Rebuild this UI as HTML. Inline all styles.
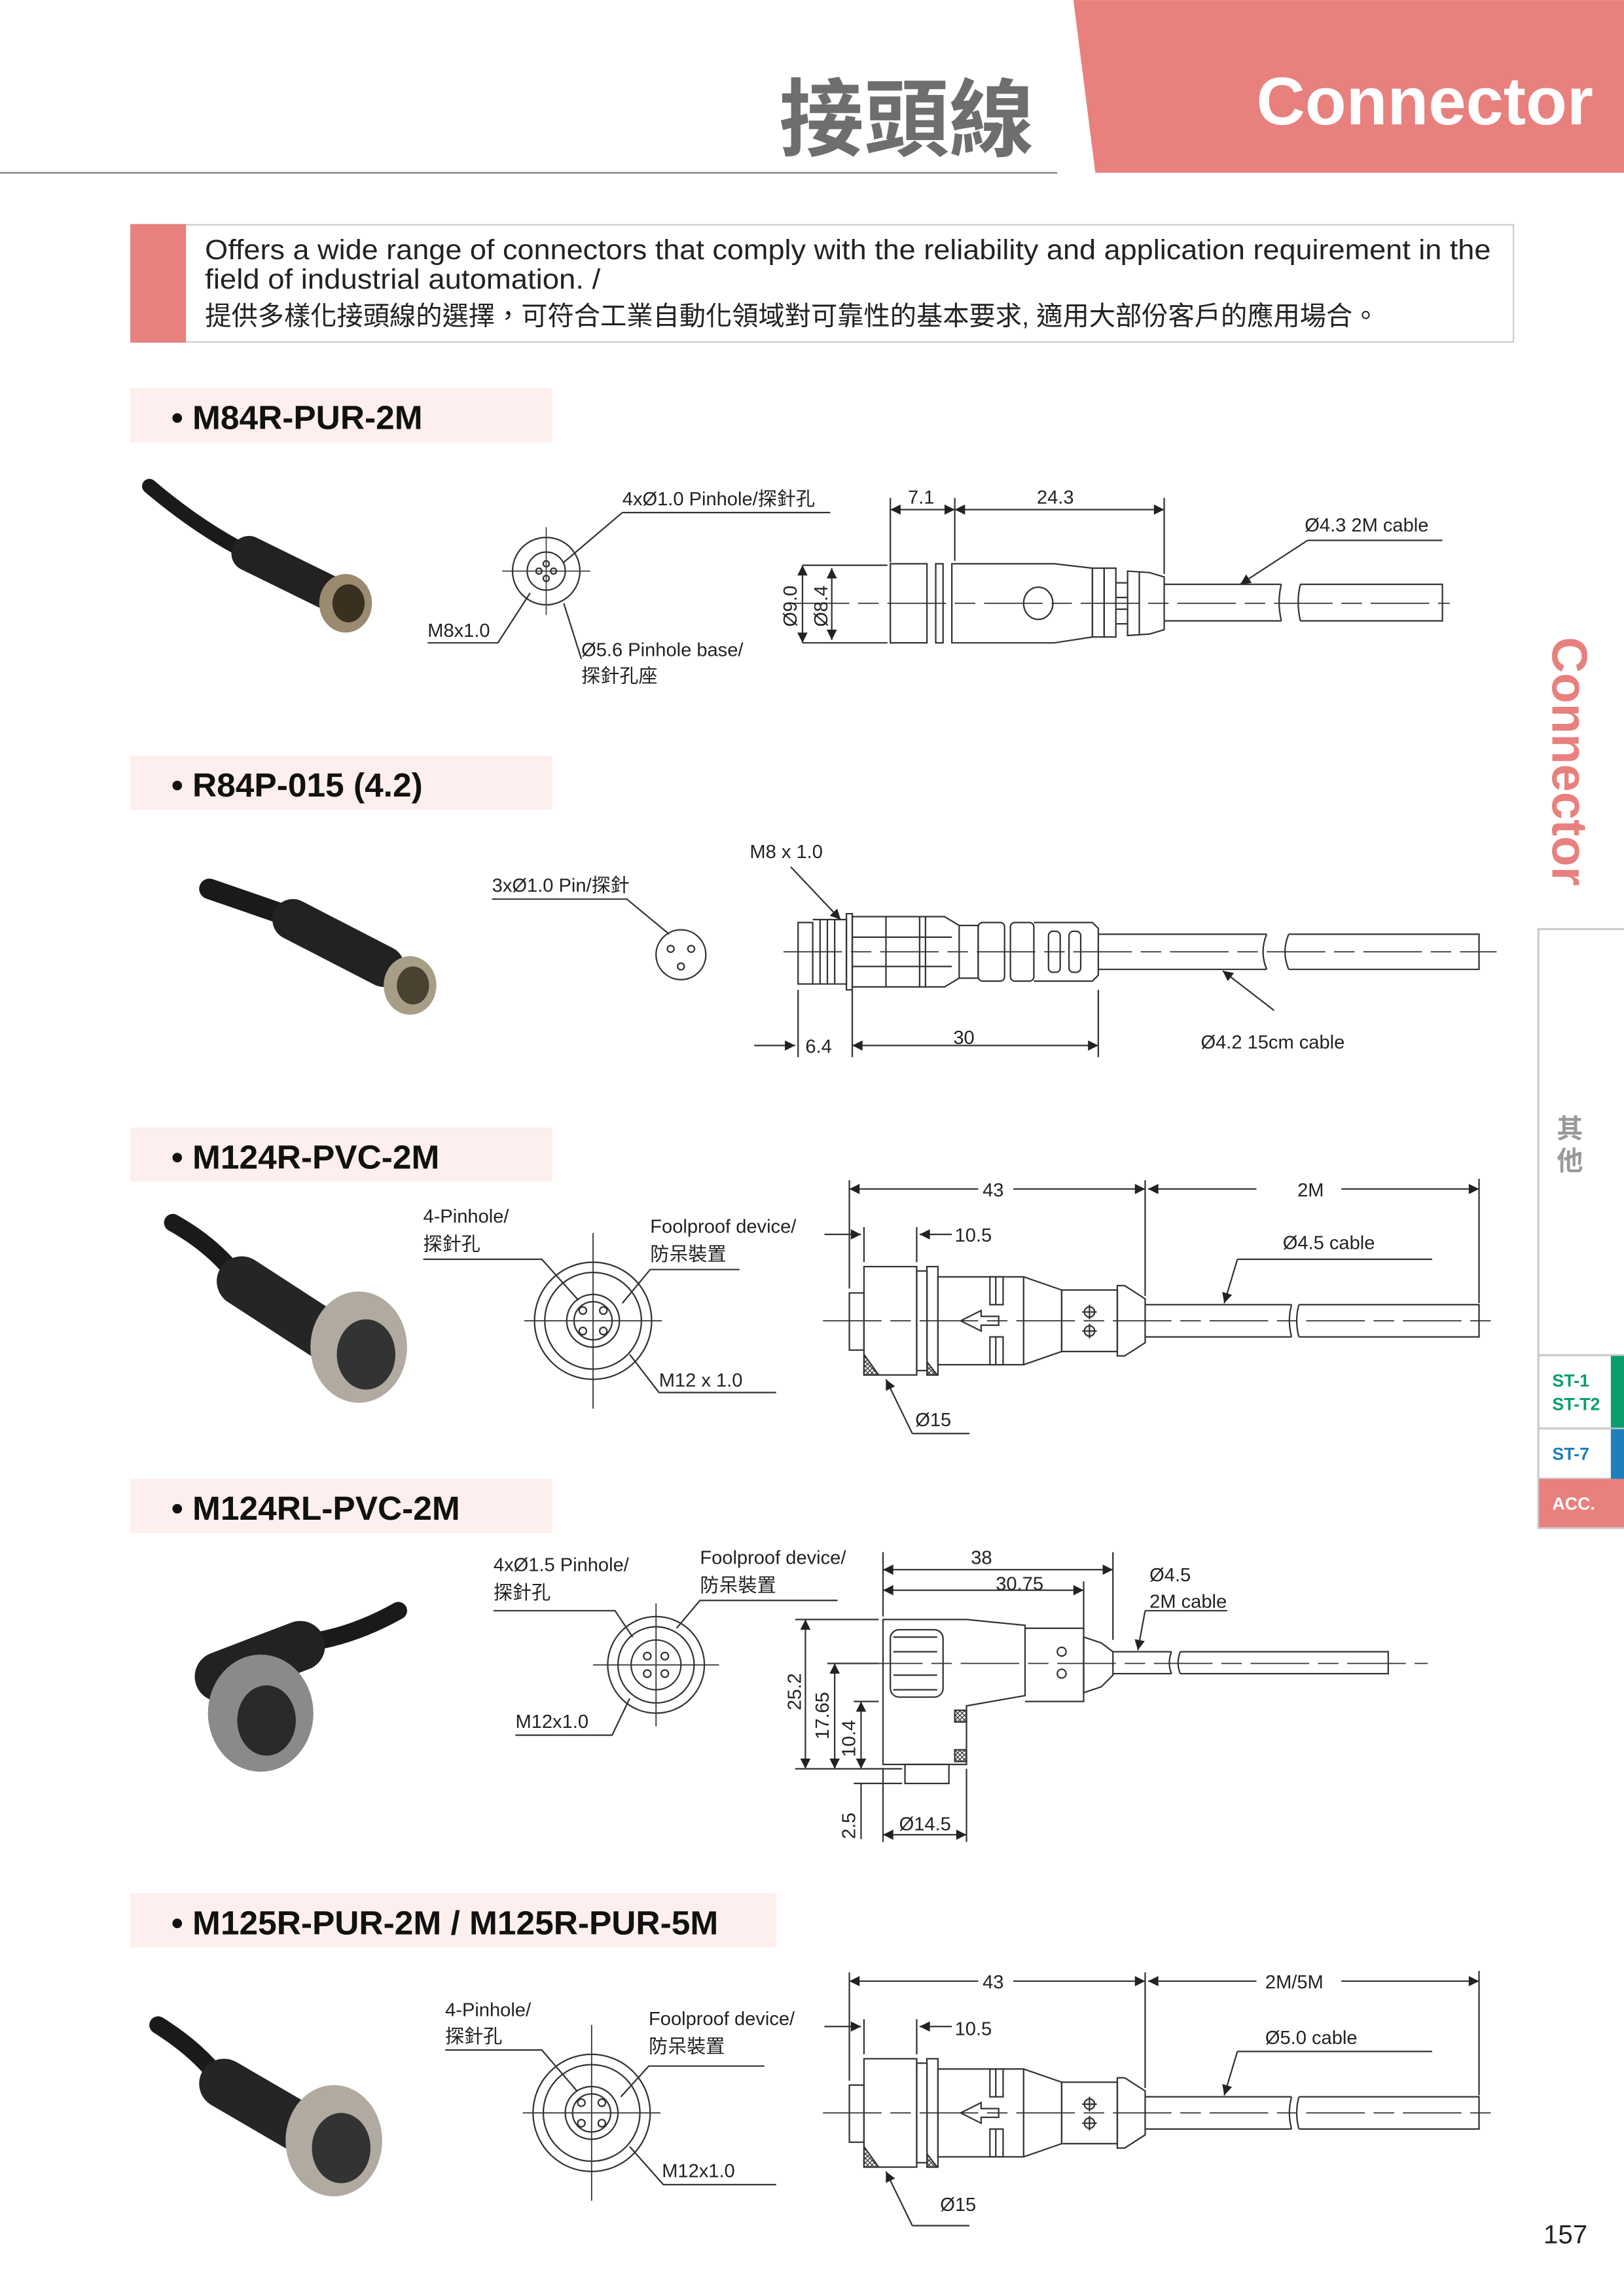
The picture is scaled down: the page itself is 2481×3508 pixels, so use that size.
<!DOCTYPE html>
<html><head><meta charset="utf-8"><style>
html,body{margin:0;padding:0;background:#fff}
svg{display:block}
text{font-family:"Liberation Sans","Noto Sans CJK TC",sans-serif}
</style></head><body>
<svg width="2481" height="3508" viewBox="0 0 1109 1568" xmlns="http://www.w3.org/2000/svg">
<defs>
<marker id="a" viewBox="0 0 10 10" refX="10" refY="5" markerWidth="9" markerHeight="7" orient="auto-start-reverse" markerUnits="userSpaceOnUse"><path d="M0,0L10,5L0,10z" fill="#222"/></marker>
<pattern id="h" width="3" height="3" patternUnits="userSpaceOnUse"><path d="M0,0L3,3M3,0L0,3" stroke="#333" stroke-width="0.6"/></pattern>
<g id="m12" fill="none" stroke="#333" stroke-width="1">
<line x1="562" y1="902" x2="1022" y2="902" stroke-dasharray="40,6,14,6" stroke-width="0.8"/>
<rect x="580" y="883" width="10" height="39"/>
<rect x="590" y="865" width="36" height="74"/>
<rect x="626" y="868" width="7" height="68"/>
<rect x="633" y="865" width="7.5" height="74"/>
<rect x="640.5" y="872" width="58.5" height="60"/>
<rect x="676" y="872" width="9" height="19"/><line x1="680" y1="872" x2="680" y2="891"/>
<rect x="676" y="913" width="9" height="19"/><line x1="680" y1="913" x2="680" y2="932"/>
<path d="M699,872L725,881L725,923L699,932"/>
<rect x="725" y="881" width="38" height="42"/>
<path d="M763,878L768,878L782,887L782,917L768,926L763,926z"/>
<path d="M782,891L882,891M887,891L1010,891L1010,913L887,913M882,913L782,913"/>
<path d="M882,891q-3,11 0,22M887,891q-3,11 0,22"/>
<path d="M682,899L670,899L670,895L656,902L670,909L670,905L682,905z"/>
<circle cx="744" cy="896" r="3.5"/><path d="M744,891v10M739,896h10"/>
<circle cx="744" cy="909" r="3.5"/><path d="M744,904v10M739,909h10"/>
<path d="M590,925L600,939L590,939z" fill="url(#h)"/>
<path d="M633,930L640,939L633,939z" fill="url(#h)"/>
<line x1="580" y1="806" x2="580" y2="880"/><line x1="782" y1="806" x2="782" y2="885"/><line x1="1010" y1="805" x2="1010" y2="890"/>
<line x1="580" y1="812" x2="668" y2="812" marker-start="url(#a)"/><line x1="692" y1="812" x2="782" y2="812" marker-end="url(#a)"/>
<line x1="784" y1="812" x2="858" y2="812" marker-start="url(#a)"/><line x1="916" y1="812" x2="1010" y2="812" marker-end="url(#a)"/>
<line x1="590" y1="838" x2="590" y2="862"/><line x1="626" y1="838" x2="626" y2="862"/>
<line x1="563" y1="843" x2="588" y2="843" marker-end="url(#a)"/><line x1="650" y1="843" x2="628" y2="843" marker-end="url(#a)"/>
<line x1="978" y1="860" x2="845" y2="860"/><line x1="845" y1="860" x2="836" y2="890" marker-end="url(#a)"/>
<line x1="623" y1="979" x2="605" y2="942" marker-end="url(#a)"/><line x1="623" y1="979" x2="662" y2="979"/>
</g>
</defs>

<!-- header -->
<path d="M733,0L1109,0L1109,118L748,118z" fill="#e8807e"/>
<text x="858" y="85" font-size="46" font-weight="bold" fill="#fff">Connector</text>
<text x="532" y="102" font-size="58" font-weight="bold" fill="#6e6e6e" font-family="'Noto Sans CJK TC',sans-serif">接頭線</text>
<line x1="0" y1="118" x2="722" y2="118" stroke="#888" stroke-width="1.2"/>

<!-- intro -->
<rect x="89.5" y="153.5" width="944" height="80" fill="#fff" stroke="#ccc"/>
<rect x="89" y="153" width="38" height="81" fill="#e8807e"/>
<text x="140" y="177" font-size="19" fill="#222" textLength="878" lengthAdjust="spacingAndGlyphs">Offers a wide range of connectors that comply with the reliability and application requirement in the</text>
<text x="140" y="197" font-size="19" fill="#222" textLength="270" lengthAdjust="spacingAndGlyphs">field of industrial automation. /</text>
<text x="140" y="222" font-size="18" fill="#222">提供多樣化接頭線的選擇，可符合工業自動化領域對可靠性的基本要求, 適用大部份客戶的應用場合。</text>

<!-- section headers -->
<g font-size="23" font-weight="bold" fill="#111">
<rect x="89" y="265" width="288" height="37" fill="#fcefed"/><text x="117" y="293">• M84R-PUR-2M</text>
<rect x="89" y="516" width="288" height="37" fill="#fcefed"/><text x="117" y="544">• R84P-015 (4.2)</text>
<rect x="89" y="770" width="288" height="37" fill="#fcefed"/><text x="117" y="798">• M124R-PVC-2M</text>
<rect x="89" y="1010" width="288" height="37" fill="#fcefed"/><text x="117" y="1038">• M124RL-PVC-2M</text>
<rect x="89" y="1293" width="441" height="37" fill="#fcefed"/><text x="117" y="1321">• M125R-PUR-2M / M125R-PUR-5M</text>
</g>

<!-- sidebar -->
<text transform="translate(1060,435) rotate(90)" font-size="34" font-weight="bold" fill="#e8807e">Connector</text>
<path d="M1109,634.5H1050.5V1043.5H1109" fill="none" stroke="#ccc" stroke-width="1.5"/>
<text x="1063" y="777" font-size="18" font-weight="bold" fill="#999">其</text>
<text x="1063" y="799" font-size="18" font-weight="bold" fill="#999">他</text>
<line x1="1051" y1="925.5" x2="1109" y2="925.5" stroke="#ccc" stroke-width="1.5"/>
<line x1="1051" y1="975.5" x2="1109" y2="975.5" stroke="#ccc" stroke-width="1.5"/>
<line x1="1051" y1="1010" x2="1109" y2="1010" stroke="#ccc" stroke-width="1.5"/>
<rect x="1100" y="926" width="9" height="49" fill="#0a9e6e"/>
<rect x="1100" y="976" width="9" height="34" fill="#1f7fba"/>
<rect x="1051" y="1010" width="58" height="33" fill="#e8807e"/>
<g font-size="12" font-weight="bold">
<text x="1060" y="947" fill="#0a9e6e">ST-1</text><text x="1060" y="963" fill="#0a9e6e">ST-T2</text>
<text x="1060" y="997" fill="#1f7fba">ST-7</text>
<text x="1060" y="1031" fill="#fff">ACC.</text></g>
<text x="1054" y="1532" font-size="18" fill="#222">157</text>

<!-- photos -->
<g fill="none" stroke-linecap="round">
<path d="M102,332Q135,360 168,377" stroke="#1a1a1a" stroke-width="10"/>
<path d="M170,378L225,405" stroke="#222" stroke-width="24"/>
<ellipse cx="236" cy="412" rx="18" ry="20" fill="#9a8a70"/><ellipse cx="238" cy="412" rx="11" ry="13" fill="#3a3020"/>
<path d="M143,607L198,626" stroke="#1a1a1a" stroke-width="14"/>
<path d="M200,628L262,660" stroke="#222" stroke-width="28"/>
<ellipse cx="280" cy="673" rx="18" ry="20" fill="#a89e88"/><ellipse cx="282" cy="673" rx="11" ry="13" fill="#4a4230"/>
<path d="M118,835Q145,850 162,872" stroke="#1a1a1a" stroke-width="12"/>
<path d="M165,875L222,912" stroke="#252525" stroke-width="34"/>
<ellipse cx="245" cy="920" rx="33" ry="38" fill="#b0aaa0"/><ellipse cx="250" cy="925" rx="20" ry="24" fill="#333"/>
<path d="M272,1100Q240,1118 208,1122" stroke="#1a1a1a" stroke-width="12"/>
<path d="M205,1124L150,1145" stroke="#222" stroke-width="34"/>
<ellipse cx="178" cy="1170" rx="36" ry="40" fill="#8a8a88"/><ellipse cx="182" cy="1175" rx="20" ry="24" fill="#2a2a2a"/>
<path d="M108,1383Q135,1400 150,1420" stroke="#1a1a1a" stroke-width="12"/>
<path d="M153,1423L208,1455" stroke="#252525" stroke-width="34"/>
<ellipse cx="228" cy="1462" rx="33" ry="38" fill="#b0aaa0"/><ellipse cx="233" cy="1467" rx="20" ry="24" fill="#333"/>
</g>

<g font-size="13" fill="#222">
<!-- Section 1 -->
<g fill="none" stroke="#333" stroke-width="1">
<circle cx="373" cy="390" r="23"/><circle cx="373" cy="390" r="13"/>
<circle cx="368" cy="390" r="2"/><circle cx="378" cy="390" r="2"/><circle cx="373" cy="385" r="2"/><circle cx="373" cy="395" r="2"/>
<path d="M343,390h60M373,360v60" stroke-width="0.7"/>
<path d="M425,350H567M425,350L385,384"/>
<path d="M292,439H340L362,405"/>
<path d="M397,450L385,412"/>
<line x1="540" y1="412" x2="990" y2="412" stroke-dasharray="40,6,14,6" stroke-width="0.8"/>
<path d="M548,386H606M548,439H606"/>
<rect x="608" y="385" width="25" height="54"/><rect x="639" y="385" width="5" height="54"/>
<path d="M650,385H720L746,388V435L720,439H650z"/>
<rect x="746" y="388" width="8" height="47"/><rect x="754" y="388" width="8" height="47"/>
<path d="M770,390L785,391L795,394V430L785,433L770,434z"/><line x1="778" y1="391" x2="778" y2="433"/>
<path d="M762,398h8M762,408h8M762,416h8M762,426h8"/>
<ellipse cx="709" cy="412" rx="10" ry="11"/>
<path d="M795,399H875M888,399H985V424H888M875,424H795"/>
<path d="M875,399q-3,12 0,25M888,399q-3,12 0,25"/>
<path d="M608,340V384M652,340V383M795,340V392"/>
<line x1="608" y1="348" x2="652" y2="348" marker-start="url(#a)" marker-end="url(#a)"/>
<line x1="652" y1="348" x2="795" y2="348" marker-start="url(#a)" marker-end="url(#a)"/>
<line x1="548" y1="386" x2="548" y2="439" marker-start="url(#a)" marker-end="url(#a)"/>
<line x1="568" y1="388" x2="568" y2="437" marker-start="url(#a)" marker-end="url(#a)"/>
<path d="M985,369H893"/><line x1="893" y1="369" x2="847" y2="399" marker-end="url(#a)"/>
</g>
<text x="425" y="345">4xØ1.0 Pinhole/探針孔</text>
<text x="292" y="435">M8x1.0</text>
<text x="397" y="448">Ø5.6 Pinhole base/</text><text x="397" y="466">探針孔座</text>
<text x="620" y="344">7.1</text><text x="708" y="344">24.3</text>
<text transform="translate(544,428) rotate(-90)">Ø9.0</text>
<text transform="translate(565,428) rotate(-90)">Ø8.4</text>
<text x="891" y="363">Ø4.3 2M cable</text>

<!-- Section 2 -->
<g fill="none" stroke="#333" stroke-width="1">
<circle cx="465" cy="652" r="17"/><circle cx="458" cy="648" r="2.3"/><circle cx="472" cy="648" r="2.3"/><circle cx="465" cy="660" r="2.3"/>
<path d="M336,614H428L457,638"/>
<line x1="535" y1="650" x2="1022" y2="650" stroke-dasharray="40,6,14,6" stroke-width="0.8"/>
<rect x="545" y="630" width="10" height="42"/>
<path d="M555,628H578V672H555M560,628V672M565,628V672M570,628V672"/>
<rect x="578" y="624" width="4" height="52"/>
<path d="M582,626H645L655,632V668L645,674H582z"/>
<path d="M605,626V674M628,626V674M632,626V674M582,640H650M582,660H650"/>
<path d="M655,632H668V668H655"/>
<rect x="668" y="630" width="18" height="40" rx="3"/><rect x="690" y="630" width="16" height="40" rx="3"/>
<path d="M706,630H746L750,634V666L746,670H706"/>
<rect x="716" y="636" width="8" height="28" rx="3"/><rect x="730" y="636" width="8" height="28" rx="3"/>
<path d="M750,638H865M880,638H1010V662H880M865,662H750"/>
<path d="M865,638q-5,12 0,24M880,638q-5,12 0,24"/>
<line x1="540" y1="592" x2="574" y2="628" marker-end="url(#a)"/>
<line x1="870" y1="690" x2="835" y2="663" marker-end="url(#a)"/>
<path d="M545,676V722M582,676V722M750,676V722"/>
<line x1="515" y1="714" x2="543" y2="714" marker-end="url(#a)"/>
<line x1="582" y1="714" x2="750" y2="714" marker-start="url(#a)" marker-end="url(#a)"/>
</g>
<text x="336" y="609">3xØ1.0 Pin/探針</text>
<text x="512" y="586">M8 x 1.0</text>
<text x="550" y="719">6.4</text><text x="651" y="713">30</text>
<text x="820" y="716">Ø4.2 15cm cable</text>

<!-- Section 3 -->
<g fill="none" stroke="#333" stroke-width="1">
<circle cx="405" cy="902" r="40"/><circle cx="405" cy="902" r="33"/><circle cx="405" cy="902" r="18"/>
<circle cx="405" cy="902" r="13"/>
<circle cx="398" cy="895" r="2.5"/><circle cx="412" cy="895" r="2.5"/><circle cx="398" cy="909" r="2.5"/><circle cx="412" cy="909" r="2.5"/>
<path d="M358,902h94M405,842v120" stroke-width="0.8"/>
<path d="M289,860H370L395,888"/>
<path d="M505,867H444L425,890"/>
<path d="M530,951H450L430,925"/>
</g>
<use href="#m12"/>
<text x="289" y="835">4-Pinhole/</text><text x="289" y="854">探針孔</text>
<text x="444" y="842">Foolproof device/</text><text x="444" y="861">防呆裝置</text>
<text x="450" y="947">M12 x 1.0</text>
<text x="671" y="817">43</text><text x="886" y="817">2M</text>
<text x="652" y="848">10.5</text>
<text x="876" y="853">Ø4.5 cable</text>
<text x="625" y="974">Ø15</text>

<!-- Section 4 -->
<g fill="none" stroke="#333" stroke-width="1">
<circle cx="448" cy="1137" r="33"/><circle cx="448" cy="1137" r="26"/><circle cx="448" cy="1137" r="17"/>
<circle cx="442" cy="1131" r="2.5"/><circle cx="454" cy="1131" r="2.5"/><circle cx="442" cy="1143" r="2.5"/><circle cx="454" cy="1143" r="2.5"/>
<path d="M405,1137h86M448,1095v84" stroke-width="0.8"/>
<path d="M337,1100H420L432,1118"/>
<path d="M572,1093H478L462,1112"/>
<path d="M352,1185H418L430,1160"/>
<line x1="590" y1="1136" x2="975" y2="1136" stroke-dasharray="40,6,14,6" stroke-width="0.8"/>
<path d="M603,1106H660L700,1110V1158L660,1165V1205H603z"/>
<path d="M610,1118H640M610,1128H640M610,1144H640M610,1154H640" />
<rect x="608" y="1113" width="36" height="46" rx="6"/>
<path d="M700,1112H740V1162H700"/>
<circle cx="725" cy="1128" r="3"/><circle cx="725" cy="1143" r="3"/>
<path d="M740,1118L752,1122L760,1128V1144L752,1152L740,1156z"/>
<path d="M760,1128H800M806,1128H948V1143H806M800,1143H760"/>
<path d="M800,1128q-3,8 0,15M806,1128q-3,8 0,15"/>
<rect x="618" y="1205" width="30" height="13"/>
<rect x="652" y="1168" width="8" height="8" fill="url(#h)"/><rect x="652" y="1195" width="8" height="8" fill="url(#h)"/>
<path d="M603,1060V1104M760,1060V1120M740,1080V1114"/>
<line x1="603" y1="1072" x2="760" y2="1072" marker-start="url(#a)" marker-end="url(#a)"/>
<line x1="603" y1="1086" x2="740" y2="1086" marker-start="url(#a)" marker-end="url(#a)"/>
<path d="M543,1106H600M565,1136H600M583,1162H600M543,1208H616M583,1218H616"/>
<line x1="550" y1="1106" x2="550" y2="1208" marker-start="url(#a)" marker-end="url(#a)"/>
<line x1="570" y1="1136" x2="570" y2="1208" marker-start="url(#a)" marker-end="url(#a)"/>
<line x1="588" y1="1162" x2="588" y2="1208" marker-start="url(#a)" marker-end="url(#a)"/>
<line x1="588" y1="1218" x2="588" y2="1256"/>
<path d="M603,1208V1258M660,1208V1258"/>
<line x1="603" y1="1253" x2="660" y2="1253" marker-start="url(#a)" marker-end="url(#a)"/>
<path d="M838,1100H782"/><line x1="782" y1="1100" x2="777" y2="1127" marker-end="url(#a)"/>
</g>
<text x="337" y="1073">4xØ1.5 Pinhole/</text><text x="337" y="1092">探針孔</text>
<text x="478" y="1068">Foolproof device/</text><text x="478" y="1087">防呆裝置</text>
<text x="352" y="1180">M12x1.0</text>
<text x="663" y="1068">38</text><text x="680" y="1086">30.75</text>
<text x="785" y="1080">Ø4.5</text><text x="785" y="1098">2M cable</text>
<text transform="translate(547,1168) rotate(-90)">25.2</text>
<text transform="translate(566,1188) rotate(-90)">17.65</text>
<text transform="translate(584,1200) rotate(-90)">10.4</text>
<text transform="translate(584,1256) rotate(-90)">2.5</text>
<text x="614" y="1250">Ø14.5</text>

<!-- Section 5 -->
<g fill="none" stroke="#333" stroke-width="1">
<circle cx="404" cy="1443" r="40"/><circle cx="404" cy="1443" r="33"/><circle cx="404" cy="1443" r="18"/><circle cx="404" cy="1443" r="13"/>
<circle cx="397" cy="1436" r="2.5"/><circle cx="411" cy="1436" r="2.5"/><circle cx="397" cy="1450" r="2.5"/><circle cx="411" cy="1450" r="2.5"/>
<path d="M357,1443h94M404,1383v120" stroke-width="0.8"/>
<path d="M304,1400H370L394,1428"/>
<path d="M522,1411H443L424,1432"/>
<path d="M530,1492H453L430,1466"/>
</g>
<use href="#m12" transform="translate(0,541)"/>
<text x="304" y="1377">4-Pinhole/</text><text x="304" y="1395">探針孔</text>
<text x="443" y="1383">Foolproof device/</text><text x="443" y="1402">防呆裝置</text>
<text x="452" y="1487">M12x1.0</text>
<text x="671" y="1358">43</text><text x="864" y="1358">2M/5M</text>
<text x="652" y="1390">10.5</text>
<text x="864" y="1396">Ø5.0 cable</text>
<text x="642" y="1510">Ø15</text>
</g>
</svg>
</body></html>
